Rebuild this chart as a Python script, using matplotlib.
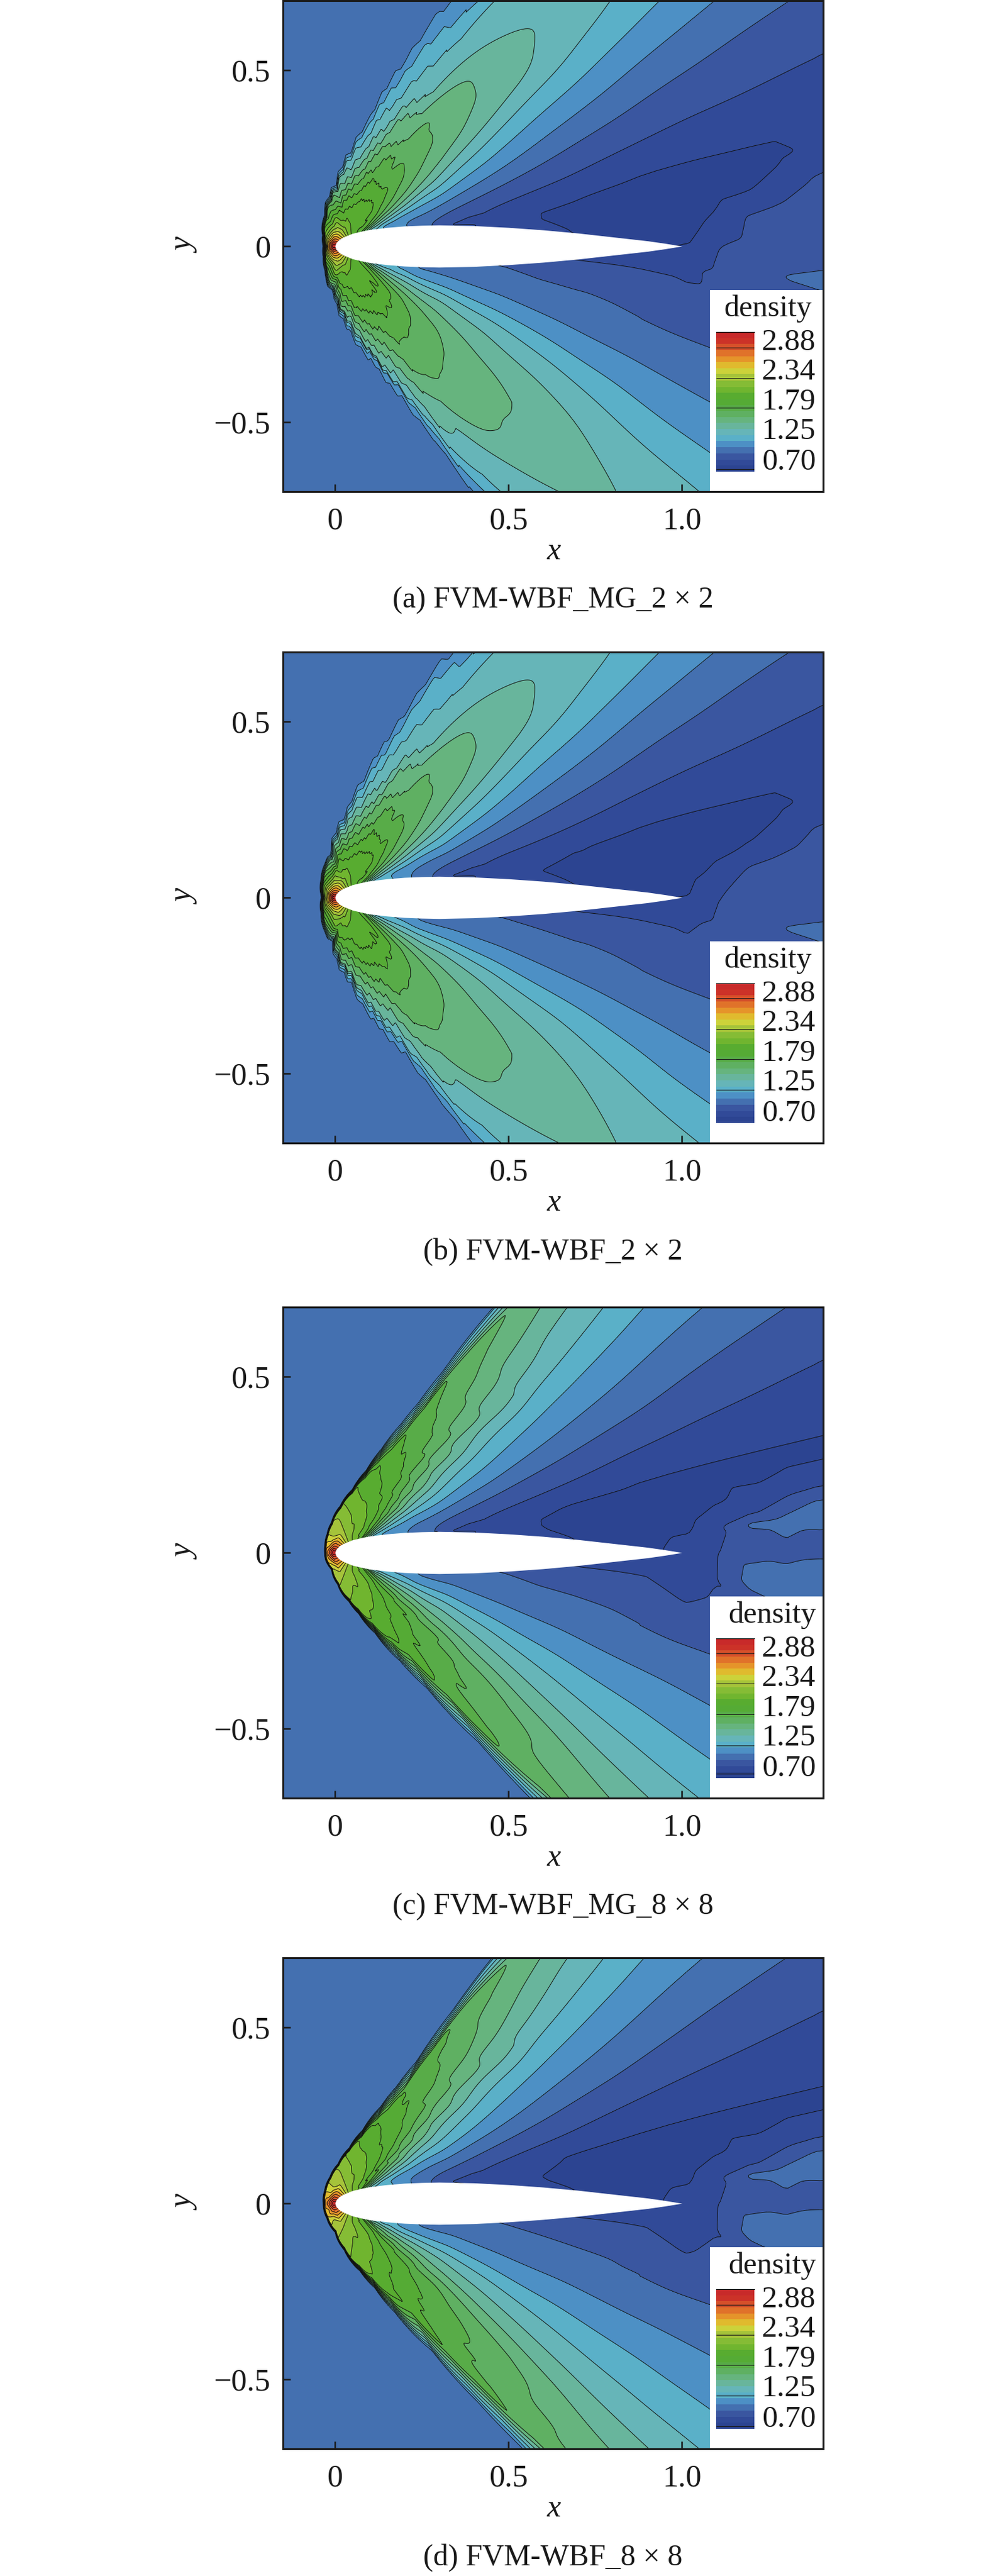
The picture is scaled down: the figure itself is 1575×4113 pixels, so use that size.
import numpy as np
import matplotlib
matplotlib.use("Agg")
import matplotlib.pyplot as plt
from matplotlib.colors import ListedColormap
from matplotlib.patches import Rectangle
from matplotlib.tri import Triangulation, LinearTriInterpolator

plt.rcParams['font.family'] = ['Liberation Serif', 'DejaVu Serif']

W, H = 1575, 4113

# contour bands of the density legend, bottom to top
levels = [0.525, 0.636, 0.746, 0.857, 0.968, 1.079, 1.19, 1.30, 1.41, 1.52, 1.63, 1.74,
          1.85, 1.96, 2.07, 2.18, 2.30, 2.41, 2.52, 2.63, 2.74, 2.85, 2.96, 3.07]
band_colors = ['#2c4491', '#314a98', '#3a56a0', '#4470b0', '#4d90c5', '#5ab0c8', '#66b5b8',
               '#68b59c', '#66b47e', '#5fb062', '#58ac48', '#55ab35', '#58ac30', '#70b52f',
               '#85bc35', '#a5c33a', '#ccd23a', '#e0ba2e', '#e5942a', '#e0722a', '#d6502a',
               '#cc3228', '#c82a2a']
legend_labels = ['2.88', '2.34', '1.79', '1.25', '0.70']
legend_values = [2.88, 2.34, 1.79, 1.25, 0.70]

freestream = 0.92

# airfoil half thickness
foil_x = [0, 0.003, 0.0125, 0.025, 0.05, 0.075, 0.1, 0.15, 0.2, 0.25, 0.3, 0.4, 0.5, 0.6, 0.7, 0.8, 0.9, 0.95, 1.0]
foil_t = [0, 0.009, 0.019, 0.026, 0.036, 0.042, 0.047, 0.053, 0.057, 0.059, 0.06, 0.058, 0.053, 0.046, 0.037, 0.026, 0.015, 0.008, 0]

# density read along rays leaving (0.05, 0); ray angle in degrees, radii below
ray_center = 0.05
radii = [0.055, 0.07, 0.1, 0.14, 0.2, 0.3, 0.45, 0.65, 0.85, 1.05, 1.25, 1.5]
ray_angles = [0, 4, 8, 12, 16, 22, 30, 38, 46, 54, 62, 70, 80, 95, 115, 140, 165, 180,
              -165, -140, -115, -95, -80, -70, -62, -54, -46, -38, -30, -22, -16, -12, -8, -4]

coarse_rows = [
    [1.6, 1.5, 1.3, 1.1, .95, .8, .7, .65, .62, .74, .80, .84],
    [1.6, 1.5, 1.3, 1.1, .95, .8, .7, .63, .60, .66, .80, .87],
    [1.6, 1.5, 1.3, 1.1, .95, .8, .68, .60, .59, .60, .68, .80],
    [1.6, 1.5, 1.3, 1.1, .95, .74, .68, .645, .61, .60, .615, .70],
    [1.6, 1.5, 1.3, 1.1, .88, .80, .75, .72, .68, .66, .66, .66],
    [1.6, 1.5, 1.3, 1.0, .94, .90, .86, .82, .79, .77, .76, .745],
    [1.5, 1.2, 1.0, 1.03, 1.05, 1.08, 1.04, .98, .94, .90, .875, .86],
    [1.5, 1.1, 1.25, 1.3, 1.32, 1.30, 1.22, 1.15, 1.12, 1.09, 1.07, 1.05],
    [1.6, 1.5, 1.55, 1.58, 1.55, 1.48, 1.42, 1.35, 1.27, 1.22, 1.2, 1.2],
    [1.7, 1.8, 1.8, 1.75, 1.68, 1.58, 1.48, 1.37, 1.2, 1.17, 1.15, 1.1],
    [1.8, 1.9, 1.9, 1.85, 1.72, 1.62, 1.40, 1.22],
    [1.85, 1.9, 1.95, 1.85, 1.72, 1.5, 1.2, 1.08],
    [1.9, 1.95, 1.95, 1.85, 1.65, 1.3],
    [1.95, 1.95, 1.9, 1.75, 1.35],
    [2.1, 2.0, 1.9, 1.6],
    [2.4, 2.2],
    [2.75, 2.4],
    [3.07, 2.5],
    [2.75, 2.4],
    [2.4, 2.2],
    [2.1, 2.0, 1.9],
    [1.95, 1.95, 1.9, 1.8, 1.45],
    [1.9, 1.95, 1.95, 1.88, 1.72, 1.35],
    [1.85, 1.9, 1.95, 1.9, 1.76, 1.55, 1.2],
    [1.8, 1.9, 1.95, 1.9, 1.76, 1.62, 1.48, 1.28],
    [1.7, 1.8, 1.85, 1.85, 1.72, 1.6, 1.5, 1.40, 1.18, 1.1],
    [1.6, 1.55, 1.6, 1.62, 1.62, 1.56, 1.48, 1.41, 1.33, 1.30, 1.28, 1.25],
    [1.5, 1.1, 1.3, 1.38, 1.42, 1.42, 1.38, 1.35, 1.31, 1.28, 1.27, 1.26],
    [1.5, 1.2, 1.05, 1.15, 1.22, 1.28, 1.26, 1.20, 1.14, 1.09, 1.07, 1.05],
    [1.6, 1.5, 1.3, 1.03, .98, 1.02, 1.02, .99, .97, .95, .94, .93],
    [1.6, 1.5, 1.3, 1.1, .95, .95, .93, .91, .88, .86, .84, .83],
    [1.6, 1.5, 1.3, 1.1, .95, .90, .92, .88, .84, .81, .82, .82],
    [1.6, 1.5, 1.3, 1.1, .95, .90, .86, .80, .78, .76, .80, .85],
    [1.6, 1.5, 1.3, 1.1, .95, .85, .80, .76, .74, .76, .86, .88],
]

fine_rows = [
    [1.6, 1.5, 1.3, 1.1, .95, .8, .7, .65, .62, .74, .82, .82],
    [1.6, 1.5, 1.3, 1.1, .95, .8, .7, .63, .60, .72, .90, .92],
    [1.6, 1.5, 1.3, 1.1, .95, .8, .68, .60, .59, .62, .70, .74],
    [1.6, 1.5, 1.3, 1.1, .95, .74, .68, .63, .61, .60, .60, .61],
    [1.6, 1.5, 1.3, 1.1, .88, .80, .75, .72, .68, .665, .66, .66],
    [1.6, 1.5, 1.3, 1.0, .94, .90, .86, .82, .79, .77, .76, .745],
    [1.5, 1.2, 1.0, 1.03, 1.05, 1.08, 1.04, .98, .94, .90, .875, .86],
    [1.5, 1.1, 1.22, 1.28, 1.3, 1.26, 1.18, 1.12, 1.08, 1.05, 1.03, 1.02],
    [1.6, 1.5, 1.55, 1.55, 1.5, 1.42, 1.36, 1.3, 1.24, 1.19, 1.18, 1.18],
    [1.75, 1.85, 1.85, 1.8, 1.75, 1.7, 1.62, 1.52, 1.47, 1.45, 1.45, 1.45],
    [1.9, 1.95, 1.95, 1.9, 1.85, 1.78, 1.68],
    [1.95, 2.0, 2.0, 1.95, 1.9, 1.82],
    [2.0, 2.05, 2.05, 1.98, 1.92],
    [2.1, 2.1, 2.1, 2.05],
    [2.2, 2.2, 2.2],
    [2.5, 2.3],
    [2.8, 2.5],
    [3.07, 2.7],
    [2.8, 2.5],
    [2.5, 2.3],
    [2.2, 2.2, 2.2],
    [2.1, 2.1, 2.1],
    [2.0, 2.05, 2.08, 2.02],
    [1.95, 2.0, 2.02, 2.0, 1.93],
    [1.9, 1.95, 1.98, 1.95, 1.9, 1.82],
    [1.75, 1.85, 1.88, 1.85, 1.82, 1.78, 1.72, 1.62],
    [1.6, 1.55, 1.65, 1.7, 1.72, 1.7, 1.62, 1.55, 1.48, 1.46, 1.45, 1.45],
    [1.5, 1.1, 1.35, 1.42, 1.45, 1.42, 1.38, 1.33, 1.29, 1.27, 1.26, 1.25],
    [1.5, 1.2, 1.05, 1.15, 1.22, 1.26, 1.22, 1.16, 1.12, 1.09, 1.07, 1.05],
    [1.6, 1.5, 1.3, 1.03, .98, 1.02, 1.0, .99, .97, .96, .95, .94],
    [1.6, 1.5, 1.3, 1.1, .95, .95, .93, .91, .88, .86, .84, .83],
    [1.6, 1.5, 1.3, 1.1, .95, .90, .92, .88, .84, .81, .82, .82],
    [1.6, 1.5, 1.3, 1.1, .95, .90, .86, .80, .78, .76, .82, .88],
    [1.6, 1.5, 1.3, 1.1, .95, .85, .80, .76, .74, .74, .92, .92],
]

# extra stations behind the trailing edge
wake_radii = [0.97, 1.15, 1.35]
coarse_wake_angles = [0, 4, 8, 12, -4, -8, -12]
coarse_wake = [[.64, .78, .82], [.60, .76, .85], [.59, .63, .76], [.60, .605, .65],
               [.73, .80, .87], [.76, .77, .83], [.81, .81, .82]]
fine_wake_angles = [0, 2, 4, 6, 8, -1, -2, -4, -8, -12]
fine_wake = [[.66, .80, .82], [.66, .80, .82], [.62, .88, .92], [.60, .70, .88], [.60, .66, .74],
             [.66, .82, .87], [.68, .89, .90], [.70, .90, .92], [.74, .76, .90], [.80, .80, .85]]

# shock position: angle from the ray centre, radius, density at the inner end of the ramp
shock_up_a = ([62, 64, 69.4, 73.7, 77.5, 82, 90, 105, 132, 160, 180],
              [.95, .88, .748, .578, .486, .377, .282, .186, .12, .092, .085],
              [1.04, 1.03, 1.0, 1.02, 1.05, 1.1, 1.2, 1.4, 1.7, 2.0, 2.0])
shock_low_a = ([60, 64.3, 66.8, 71.3, 79, 92.4, 111, 138.8, 160, 180],
               [1.0, .77, .62, .48, .35, .241, .149, .106, .09, .085],
               [1.03, 1.0, 1.02, 1.05, 1.1, 1.2, 1.4, 1.7, 2.0, 2.0])
shock_up_b = ([62, 64, 69.6, 73.2, 77.3, 84, 94.5, 118, 150, 174, 180],
              [.95, .88, .745, .589, .475, .354, .242, .137, .105, .092, .09],
              [1.04, 1.03, 1.0, 1.02, 1.05, 1.1, 1.2, 1.4, 1.8, 2.0, 2.0])
shock_low_b = ([60, 64.4, 66.5, 70.7, 78.8, 91, 115, 153, 180],
               [1.0, .772, .644, .498, .375, .248, .141, .102, .09],
               [1.03, 1.0, 1.02, 1.05, 1.1, 1.2, 1.4, 1.8, 2.0])
shock_up_c = ([56, 59.8, 63.2, 66, 69, 74, 80.3, 90, 104.7, 125, 144, 165, 180],
              [1.1, .81, .583, .47, .396, .31, .238, .18, .1375, .105, .09, .082, .08],
              [1.55, 1.65, 1.72, 1.78, 1.82, 1.86, 1.92, 2.0, 2.1, 2.2, 2.3, 2.45, 2.5])
shock_low_c = ([51, 53.8, 56, 60.8, 66, 74, 84, 94, 115, 141, 165, 180],
               [1.15, .863, .66, .447, .34, .24, .175, .14, .1, .077, .08, .08],
               [1.6, 1.68, 1.76, 1.85, 1.9, 1.96, 2.02, 2.08, 2.2, 2.3, 2.45, 2.5])
shock_up_d = ([56, 60.1, 62.2, 65.4, 69, 73.4, 82, 93.3, 110, 131, 155, 180],
              [1.1, .805, .628, .448, .36, .29, .21, .158, .12, .099, .088, .084],
              [1.55, 1.65, 1.72, 1.78, 1.82, 1.86, 1.95, 2.05, 2.15, 2.25, 2.4, 2.5])
shock_low_d = ([52, 55, 57.4, 61.3, 68.4, 75, 83.5, 100, 121, 150, 180],
               [1.15, .85, .679, .483, .337, .25, .194, .135, .096, .085, .084],
               [1.6, 1.68, 1.76, 1.85, 1.92, 1.96, 2.02, 2.12, 2.22, 2.4, 2.5])

# where the ramp behind the shock starts, as a share of the shock radius
ramp_coarse = 0.9
ramp_up_c = [.5, .55, .62, .7, .76, .84, .9, .94, .95, .95, .95, .95, .95]
ramp_low_c = [.5, .55, .6, .68, .78, .86, .92, .94, .95, .95, .95, .95]
ramp_up_d = [.5, .55, .6, .68, .76, .84, .9, .94, .95, .95, .95, .95]
ramp_low_d = [.5, .55, .6, .68, .8, .87, .92, .95, .95, .95, .95]

# scallops on the coarse grid shock, share of the radius
wave_angles = [64, 65.5, 67, 68.5, 70, 71.5, 73, 74.5, 76, 77.5, 79, 80.5, 82, 85, 88, 91, 94, 97, 101, 105, 110, 115, 122, 130]
wave_shares = [.02, -.02, .025, -.02, .02, -.025, .02, -.02, .025, -.02, .025, -.02, .025, -.025, .03, -.025, .03, -.03, .03, -.03, .03, -.03, .025, 0]

# legend lines (bar values) of each panel
legend_lines_a = [2.79, 2.23, 1.69, 0.57]
legend_lines_b = [2.80, 2.24, 1.69, 1.13]
legend_lines_c = [2.80, 2.25, 1.69, 1.12, 0.60]
legend_lines_d = [2.79, 2.24, 1.69, 1.13, 0.57]

captions = ['(a) FVM-WBF_MG_2 × 2', '(b) FVM-WBF_2 × 2', '(c) FVM-WBF_MG_8 × 8', '(d) FVM-WBF_8 × 8']
panel_tops = [1, 1041, 2087, 3126]
panel_height = 784
panel_left = 452.5
panel_width = 862


def shock_radius(angle, shock):
    # past the frame the rays meet no shock, 2.4 only closes the mesh
    return np.interp(np.abs(angle), [0, 44] + shock[0], [2.4, 2.4] + shock[1])


def build_field(rows, wake_angles, wake, shock_up, shock_low, ramp_up, ramp_low, wave):
    us, vs, zs = [], [], []

    def add(angle, r, z, shock):
        # everything is meshed in shock-fitted coordinates so the front stays clean
        us.append(angle / 100)
        vs.append(np.log(r / shock_radius(angle, shock)) / 2)
        zs.append(z)

    for angle, row in zip(ray_angles, rows):
        sides = [(angle, shock_up if angle >= 0 else shock_low, ramp_up if angle >= 0 else ramp_low)]
        if angle == 180:
            sides.append((-180, shock_low, ramp_low))
        for signed, shock, ramp in sides:
            r_s = shock_radius(signed, shock)
            add(signed, 0.03, row[0], shock)
            free_ray = abs(signed) < shock[0][0]
            limit = 0.97 * r_s if free_ray else np.interp(abs(signed), shock[0], ramp) * r_s
            for r, z in zip(radii, row):
                if r < limit - 0.002:
                    add(signed, r, z, shock)
            if free_ray:
                add(signed, 0.98 * r_s, row[-1], shock)
            elif abs(signed) not in shock[0]:
                add(signed, limit, np.interp(abs(signed), shock[0], shock[2]), shock)
                add(signed, r_s, freestream, shock)
    for angle, row in zip(wake_angles, wake):
        shock = shock_up if angle >= 0 else shock_low
        for r, z in zip(wake_radii, row):
            add(angle, r, z, shock)
    for sign, shock, ramp in ((1, shock_up, ramp_up), (-1, shock_low, ramp_low)):
        for angle, r_s, post, share in zip(shock[0], shock[1], shock[2], ramp):
            add(sign * angle, share * r_s, post, shock)
            add(sign * angle, r_s, freestream, shock)
            add(sign * angle, 1.5 * r_s, freestream, shock)
            if angle >= 90:
                add(sign * angle, 15 * r_s, freestream, shock)

    # regular grid in the same coordinates, eased along the shock and a bit across it
    mesh = Triangulation(np.array(us), np.array(vs))
    field = LinearTriInterpolator(mesh, np.array(zs))
    theta = np.linspace(-180, 180, 1441)
    s = np.geomspace(0.012, 15, 700)
    T, S = np.meshgrid(theta, s)
    Z = field(T / 100, np.log(S) / 2)
    valid = ~np.ma.getmaskarray(Z)
    weights = valid.astype(float)
    filled = np.where(valid, Z.filled(0.0), 0.0)

    def ease(values, width, axis):
        kernel = np.bartlett(width)
        return np.apply_along_axis(np.convolve, axis, values, kernel, mode='same')

    sideways = ease(filled, 61, 1) / np.maximum(ease(weights, 61, 1), 1e-9)
    narrow = ease(filled, 7, 1) / np.maximum(ease(weights, 7, 1), 1e-9)
    eased = np.where(np.abs(T) < 14, narrow, sideways)
    across = ease(eased * weights, 25, 0) / np.maximum(ease(weights, 25, 0), 1e-9)
    eased = np.where((S < 0.6) & (np.abs(T) >= 14), across, eased)
    eased = np.ma.array(eased, mask=~valid)

    R = S * np.where(T >= 0, shock_radius(T, shock_up), shock_radius(T, shock_low))
    if wave is not None:
        R = R * (1 + np.interp(np.abs(T) + wave, wave_angles, wave_shares, left=0, right=0))
    X = ray_center + R * np.cos(np.radians(T))
    Y = R * np.sin(np.radians(T))
    return X, Y, eased


def draw_legend(ax, lines, density_right):
    ax.add_patch(Rectangle(((1134 - panel_left) / panel_width, 0), 1, (785 - 463) / panel_height,
                           transform=ax.transAxes, fc='white', ec='none', zorder=2.2))
    bar = ax.inset_axes([(1144 - panel_left) / panel_width, (panel_height - 752) / panel_height,
                         61 / panel_width, 223 / panel_height])
    bar.pcolormesh([0, 1], levels, np.arange(len(band_colors))[:, None],
                   cmap=ListedColormap(band_colors), shading='flat')
    bar.hlines(lines, 0, 1, colors='#1a1a1a', lw=0.8)
    bar.set_xlim(0, 1)
    bar.set_ylim(levels[0], levels[-1])
    bar.set_xticks([])
    bar.set_yticks([])
    for name in ['left', 'right', 'bottom']:
        bar.spines[name].set_visible(False)
    bar.spines['top'].set_linewidth(0.8)
    for label, value in zip(legend_labels, legend_values):
        bar.text(1 + 98 / 61, value, label, ha='right', va='center', fontsize=35.5, color='#1a1a1a')
    ax.text((density_right - panel_left) / panel_width, (panel_height - 504) / panel_height, 'density',
            transform=ax.transAxes, ha='right', va='baseline', fontsize=35, color='#1a1a1a', zorder=6)


fig = plt.figure(figsize=(W / 100, H / 100), dpi=100)
panels = [(coarse_rows, coarse_wake_angles, coarse_wake, shock_up_a, shock_low_a,
           [ramp_coarse] * len(shock_up_a[0]), [ramp_coarse] * len(shock_low_a[0]), 0.0, legend_lines_a, 1297),
          (coarse_rows, coarse_wake_angles, coarse_wake, shock_up_b, shock_low_b,
           [ramp_coarse] * len(shock_up_b[0]), [ramp_coarse] * len(shock_low_b[0]), 0.7, legend_lines_b, 1297),
          (fine_rows, fine_wake_angles, fine_wake, shock_up_c, shock_low_c,
           ramp_up_c, ramp_low_c, None, legend_lines_c, 1304),
          (fine_rows, fine_wake_angles, fine_wake, shock_up_d, shock_low_d,
           ramp_up_d, ramp_low_d, None, legend_lines_d, 1304)]

for i, (rows, wake_angles, wake, up, low, ramp_up, ramp_low, wave, lines, density_right) in enumerate(panels):
    top = panel_tops[i]
    ax = fig.add_axes([panel_left / W, 1 - (top + panel_height) / H, panel_width / W, panel_height / H])
    X, Y, Z = build_field(rows, wake_angles, wake, up, low, ramp_up, ramp_low, wave)
    ax.contourf(X, Y, Z, levels=levels, colors=band_colors, zorder=1)
    ax.contour(X, Y, Z, levels=levels, colors='#111111', linewidths=0.7, zorder=1.5)
    ax.fill_between(foil_x, -np.array(foil_t), foil_t, color='white', lw=0, zorder=2)
    draw_legend(ax, lines, density_right)

    ax.set_xlim(-0.149, 1.406)
    ax.set_ylim(-0.698, 0.698)
    ax.set_xticks([0, 0.5, 1.0])
    ax.set_xticklabels(['0', '0.5', '1.0'])
    ax.set_yticks([-0.5, 0, 0.5])
    ax.set_yticklabels(['−0.5', '0', '0.5'])
    ax.tick_params(direction='in', length=8.5, width=1.8, labelsize=36, pad=15, colors='#1a1a1a')
    ax.tick_params(axis='x', pad=17)
    for spine in ax.spines.values():
        spine.set_linewidth(2.2)
        spine.set_color('#1a1a1a')

    fig.text(885 / W, 1 - (top + panel_height + 108) / H, 'x', style='italic', fontsize=36,
             ha='center', va='baseline', color='#1a1a1a')
    fig.text(296 / W, 1 - (top + panel_height / 2) / H, 'y', style='italic', fontsize=36, rotation=90,
             ha='center', va='center', color='#1a1a1a')
    fig.text(883 / W, 1 - (top + panel_height + 186) / H, captions[i], fontsize=34.5,
             ha='center', va='baseline', color='#1a1a1a')

fig.savefig('out.png', dpi=100)
